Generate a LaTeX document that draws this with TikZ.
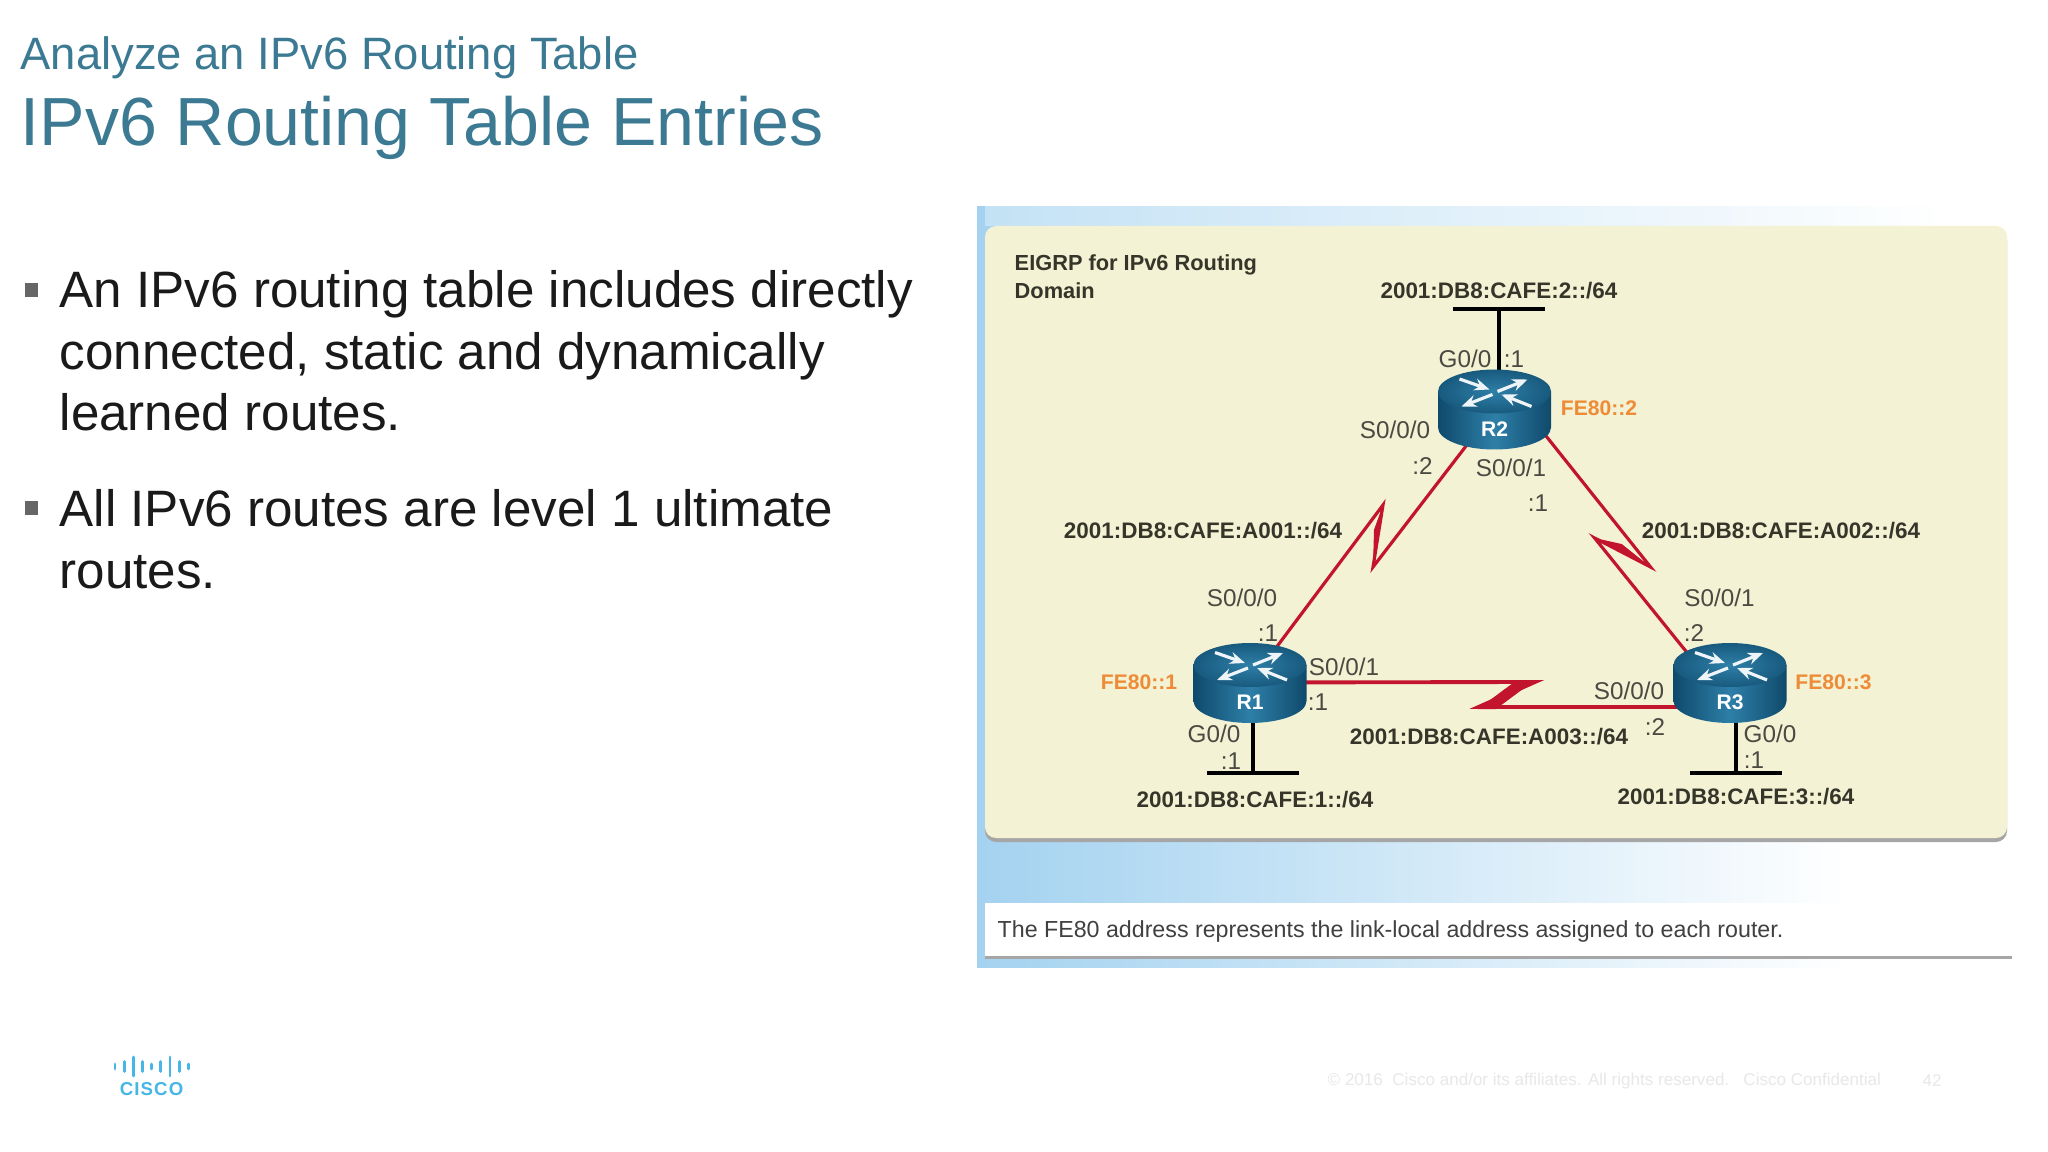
\documentclass[tikz,border=0pt]{standalone}
\usepackage{fontspec}
\setmainfont{Liberation Sans}
\usetikzlibrary{arrows.meta}
\usetikzlibrary{calc}

\definecolor{titleteal}{HTML}{3B7A92}
\definecolor{bodyink}{HTML}{1A1A1A}
\definecolor{panelyellow}{HTML}{F3F2D4}
\definecolor{panelblue}{HTML}{A4D2F0}
\definecolor{labelink}{HTML}{35352A}
\definecolor{portink}{HTML}{4A4A42}
\definecolor{serialred}{HTML}{C3142D}
\definecolor{fegold}{HTML}{EE8B36}
\definecolor{ciscoblue}{HTML}{45B6E6}
\definecolor{routerlight}{HTML}{2E7FA8}
\definecolor{routerdark}{HTML}{0F4A6C}

\tikzset{
    subnet/.style={font=\fontsize{6.38}{7}\selectfont\bfseries, text=labelink, inner sep=0pt},
    port/.style={font=\fontsize{6.9}{8}\selectfont, text=portink, inner sep=0pt},
    linklocal/.style={font=\fontsize{6.0}{7}\selectfont\bfseries, text=fegold, inner sep=0pt},
    routerbox/.style={inner sep=0pt, minimum width=1.13cm, minimum height=0.81cm},
    routername/.style={font=\fontsize{6.0}{7}\selectfont\bfseries, text=white, inner sep=0pt, yshift=-0.2cm},
    serial/.style={draw=serialred, line width=0.9pt, miter limit=20},
    lan/.style={draw=black, line width=0.9pt},
    lanbar/.style={draw=black, line width=1.2pt},
    bullettext/.style={font=\fontsize{14.55}{17.5}\selectfont, text=bodyink, anchor=north west, inner sep=0pt, align=left},
    footer/.style={font=\fontsize{4.85}{6}\selectfont, text=black!9, inner sep=0pt}
}

\newcommand{\routericon}[1]{
    \begin{scope}[shift={(#1)}]
        \path[left color=routerdark, right color=routerdark, middle color=routerlight]
            (-56.5,-17.5) -- (-56.5,18.5) arc[start angle=180, end angle=0, x radius=56.5, y radius=22] -- (56.5,-17.5) -- cycle;
        \path[inner color=routerlight, outer color=routerdark!70!routerlight] (0,-17.5) ellipse [x radius=56.5, y radius=22];
        \foreach \ax/\ay/\bx/\by in {-35/-30/-5/-19.5, 37/-2.5/7/-14.5, 3/-17.5/33/-29.5, -2/-14.5/-33/-2.5}
            \draw[white!92!routerlight, line width=0.9pt, -{Stealth[length=1.5mm, width=1.2mm]}] (\ax,\ay) -- (\bx,\by);
    \end{scope}
}

\begin{document}
\begin{tikzpicture}[x=0.01cm, y=-0.01cm]
    \useasboundingbox (0,0) rectangle (2048,1152);
    \fill[white] (0,0) rectangle (2048,1152);

    % slide heading
    \node[font=\fontsize{12.9}{16}\selectfont, text=titleteal, anchor=west, inner sep=0pt] (section) at (20,58) {Analyze an IPv6 Routing Table};
    \node[font=\fontsize{19.37}{23}\selectfont, text=titleteal, anchor=west, inner sep=0pt] (title) at (20,128) {IPv6 Routing Table Entries};

    % bullets
    \fill[black!60] (25,283) rectangle (38,297);
    \fill[black!60] (25,501) rectangle (38,515);
    \node[bullettext] (first) at (59,270) {An IPv6 routing table includes directly\\connected, static and dynamically\\learned routes.};
    \node[bullettext] (second) at (59,489) {All IPv6 routes are level 1 ultimate\\routes.};

    % panel
    \shade[left color=panelblue, right color=white] (977,207) rectangle (1850,967);
    \shade[left color=panelblue!65!white, right color=white] (985,207) rectangle (1950,226);
    \fill[black!35, rounded corners=1.1mm] (985,230) rectangle (2007,842);
    \fill[panelyellow, rounded corners=1.1mm] (985,226) rectangle (2007,838);
    \fill[black!35] (985,906) rectangle (2012,959);
    \fill[white] (985,903) rectangle (2012,956);
    \node[font=\fontsize{6.6}{8}\selectfont, text=black!75, anchor=west, inner sep=0pt] (caption) at (997,931) {The FE80 address represents the link-local address assigned to each router.};
    \node[subnet, anchor=north west, align=left, font=\fontsize{6.2}{7.7}\selectfont\bfseries] (domain) at (1014,254.5) {EIGRP for IPv6 Routing\\Domain};

    % routers
    \node[routerbox] (R1) at (1250,682.5) {};
    \node[routerbox] (R2) at (1494.5,409) {};
    \node[routerbox] (R3) at (1730,682.5) {};

    % LAN stubs
    \coordinate (barR1) at (1253,773);
    \coordinate (barR2) at (1499,309);
    \coordinate (barR3) at (1736,773);
    \draw[lan] (R1.center -| barR1) -- (barR1);
    \draw[lan] (R2.center -| barR2) -- (barR2);
    \draw[lan] (R3.center -| barR3) -- (barR3);
    \foreach \c in {barR1, barR2, barR3}
        \draw[lanbar] ([xshift=-0.46cm]\c) -- ([xshift=0.46cm]\c);

    % serial links
    \coordinate (a12) at (1373,567);
    \coordinate (b12) at (1383,505);
    \coordinate (a23) at (1650.5,567);
    \coordinate (b23) at (1594.6,538);
    \coordinate (a13) at (1535,682);
    \coordinate (b13) at (1478.5,707);
    \draw[serial] (R2.center) -- (a12) -- (b12) -- (R1.center);
    \draw[serial] ([xshift=0.3cm]R2.center) -- (a23) -- (b23) -- ([shift={(-35,-20)}]R3.center);
    \draw[serial, line width=1.1pt] (R1.center) -- (a13) -- (b13) -- (b13 -| R3.center);
    \fill[serialred] (b12) -- (a12) -- ($(a12)!0.6!(b12)+(-5,0)$) -- cycle;
    \fill[serialred] (a23) -- (b23) -- ($(b23)!0.45!(a23)+(2,-7)$) -- cycle;
    \fill[serialred] (1535,680) -- (1517,680) -- (1478,709) -- (1496,709) -- cycle;

    \routericon{1250,682.5}
    \routericon{1494.5,409}
    \routericon{1730,682.5}
    \node[routername] (nameR1) at (1250,682.5) {R1};
    \node[routername] (nameR2) at (1494.5,409) {R2};
    \node[routername] (nameR3) at (1730,682.5) {R3};

    % addresses
    \node[subnet] (net2) at (1499,291) {2001:DB8:CAFE:2::/64};
    \node[subnet] (net1) at (1255,800) {2001:DB8:CAFE:1::/64};
    \node[subnet] (net3) at (1736,797) {2001:DB8:CAFE:3::/64};
    \node[subnet] (netA1) at (1203,531) {2001:DB8:CAFE:A001::/64};
    \node[subnet] (netA2) at (1781,531) {2001:DB8:CAFE:A002::/64};
    \node[subnet] (netA3) at (1489,737) {2001:DB8:CAFE:A003::/64};
    \node[linklocal] (fe1) at (1139,682) {FE80::1};
    \node[linklocal] (fe2) at (1599,408) {FE80::2};
    \node[linklocal] (fe3) at (1833.5,682) {FE80::3};

    % ports
    \node[port] (p2g) at (1465,359) {G0/0};
    \node[port] (p2g1) at (1514,359) {:1};
    \node[port] (p2s0) at (1395,430) {S0/0/0};
    \node[port] (p2s0a) at (1422.6,466) {:2};
    \node[port] (p2s1) at (1511,468) {S0/0/1};
    \node[port] (p2s1a) at (1538,503) {:1};
    \node[port] (p1s0) at (1242,598) {S0/0/0};
    \node[port] (p1s0a) at (1268,633) {:1};
    \node[port] (p1s1) at (1344,667) {S0/0/1};
    \node[port] (p1s1a) at (1318,702) {:1};
    \node[port] (p1g) at (1214,734) {G0/0};
    \node[port] (p1g1) at (1231,761) {:1};
    \node[port] (p3s1) at (1719.5,598) {S0/0/1};
    \node[port] (p3s1a) at (1694,633) {:2};
    \node[port] (p3s0) at (1629,691) {S0/0/0};
    \node[port] (p3s0a) at (1655,727) {:2};
    \node[port] (p3g) at (1770,734) {G0/0};
    \node[port] (p3g1) at (1754,760) {:1};

    % logo
    \foreach \x/\h in {115/7, 124.2/12, 133.3/21, 142.5/12, 151.7/7, 160.8/12, 170/21, 179.2/12, 188.3/7}
        \draw[ciscoblue, line width=0.8pt, line cap=round] (\x,1066.5-\h/2+1) -- (\x,1066.5+\h/2-1);
    \node[font=\fontsize{5.3}{6}\selectfont\bfseries\addfontfeatures{LetterSpace=6}, text=ciscoblue, inner sep=0pt] (logo) at (151.5,1089) {CISCO};

    % footer
    \node[footer, anchor=west] (rights) at (1327,1081) {© 2016\ \ Cisco and/or its affiliates. All rights reserved.\ \ \ Cisco Confidential};
    \node[footer] (pagenum) at (1932,1081) {42};
\end{tikzpicture}
\end{document}
